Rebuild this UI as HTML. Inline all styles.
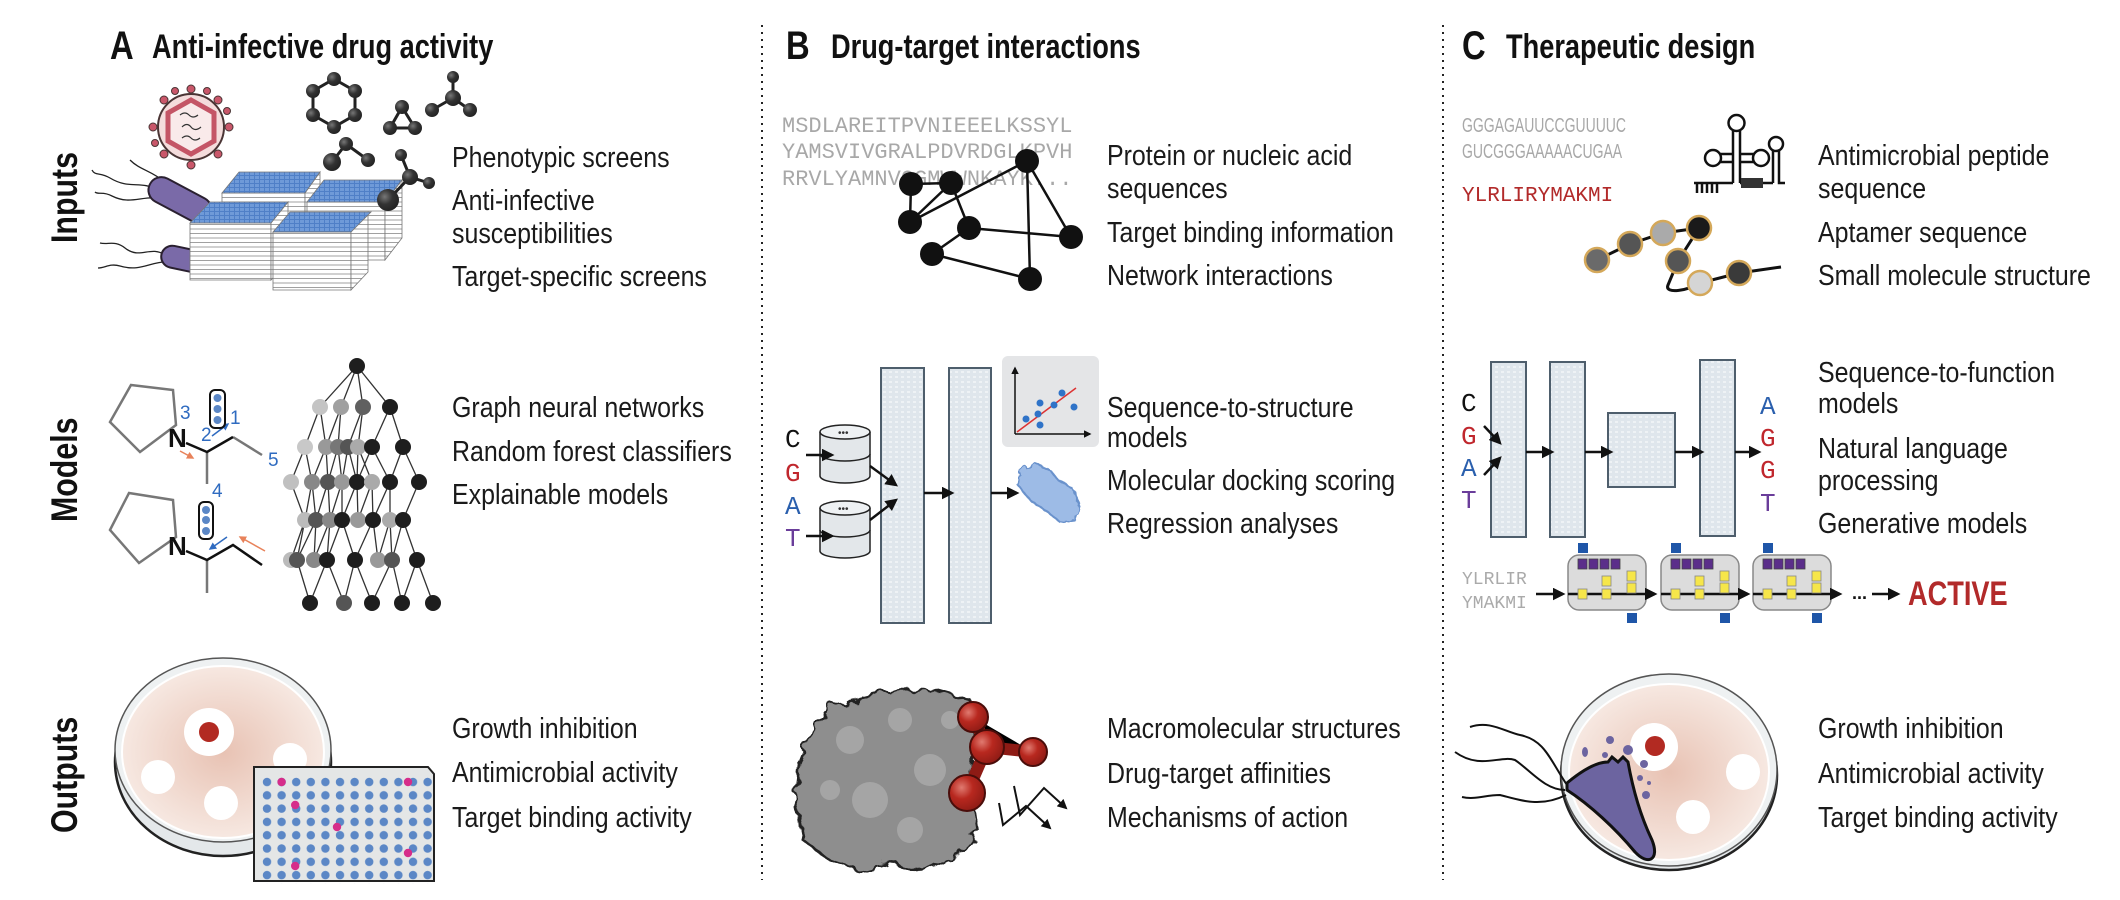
<!DOCTYPE html>
<html><head><meta charset="utf-8">
<style>
html,body{margin:0;padding:0;background:#fff;}
svg{display:block;}
.t{font-family:"Liberation Sans",sans-serif;font-size:29px;fill:#1a1a1a;}
.h{font-family:"Liberation Sans",sans-serif;font-size:34px;font-weight:bold;fill:#111;}
.L{font-family:"Liberation Sans",sans-serif;font-size:40px;font-weight:bold;fill:#111;}
.row{font-family:"Liberation Sans",sans-serif;font-size:37px;font-weight:bold;fill:#111;}
.m{font-family:"Liberation Mono",monospace;}
</style></head>
<body>
<svg width="2120" height="900" viewBox="0 0 2120 900" xmlns="http://www.w3.org/2000/svg">
<defs>
  <pattern id="grid" width="5" height="4" patternUnits="userSpaceOnUse">
    <rect width="5" height="4" fill="#4f7fc7"/><rect x="0" y="0" width="4" height="3" fill="#6f9ad8"/>
  </pattern>
  <pattern id="hl" width="6" height="4.5" patternUnits="userSpaceOnUse">
    <rect width="6" height="4.5" fill="#fff"/><line x1="0" y1="4" x2="6" y2="4" stroke="#888" stroke-width="0.8"/>
  </pattern>
  <pattern id="wells" x="262" y="777" width="14.6" height="13.3" patternUnits="userSpaceOnUse">
    <circle cx="5" cy="5" r="4.2" fill="#5b87c6"/>
  </pattern>
  <pattern id="bin" width="6" height="5" patternUnits="userSpaceOnUse">
    <rect width="6" height="5" fill="#dfe6ec"/><rect x="1" y="1" width="3" height="2" fill="#eef2f5"/>
  </pattern>
  <radialGradient id="peach" cx="0.5" cy="0.5" r="0.55">
    <stop offset="0" stop-color="#e8c2b3"/><stop offset="1" stop-color="#f8ece6"/>
  </radialGradient>
  <radialGradient id="ball" cx="0.35" cy="0.35" r="0.7">
    <stop offset="0" stop-color="#777"/><stop offset="0.5" stop-color="#333"/><stop offset="1" stop-color="#222"/>
  </radialGradient>
  <radialGradient id="rball" cx="0.35" cy="0.35" r="0.7">
    <stop offset="0" stop-color="#e07a70"/><stop offset="0.45" stop-color="#b8281f"/><stop offset="1" stop-color="#8e1b15"/>
  </radialGradient>
  <filter id="bumpy" x="-10%" y="-10%" width="120%" height="120%">
    <feTurbulence type="fractalNoise" baseFrequency="0.08" numOctaves="2" seed="3"/>
    <feDisplacementMap in="SourceGraphic" scale="12"/>
  </filter>
  <filter id="bumpy2" x="-10%" y="-10%" width="120%" height="120%">
    <feTurbulence type="fractalNoise" baseFrequency="0.15" numOctaves="2" seed="5"/>
    <feDisplacementMap in="SourceGraphic" scale="8"/>
  </filter>
  <marker id="ar" viewBox="0 0 10 10" refX="8" refY="5" markerWidth="5" markerHeight="5" orient="auto">
    <path d="M0,0 L10,5 L0,10 z" fill="#111"/>
  </marker>
  <marker id="aro" viewBox="0 0 10 10" refX="8" refY="5" markerWidth="5" markerHeight="5" orient="auto">
    <path d="M0,0 L10,5 L0,10 z" fill="#e8825a"/>
  </marker>
  <marker id="arb" viewBox="0 0 10 10" refX="8" refY="5" markerWidth="5" markerHeight="5" orient="auto">
    <path d="M0,0 L10,5 L0,10 z" fill="#2f6bc0"/>
  </marker>
</defs>

<line x1="762" y1="25" x2="762" y2="880" stroke="#222" stroke-width="2" stroke-dasharray="2,5"/>
<line x1="1443" y1="25" x2="1443" y2="880" stroke="#222" stroke-width="2" stroke-dasharray="2,5"/>

<text class="row" transform="translate(77,243) rotate(-90) scale(.82,1)">Inputs</text>
<text class="row" transform="translate(77,522) rotate(-90) scale(.82,1)">Models</text>
<text class="row" transform="translate(77,833) rotate(-90) scale(.82,1)">Outputs</text>

<text class="L" transform="translate(110,59) scale(.82,1)">A</text>
<text class="h" transform="translate(152,58) scale(.8,1)">Anti-infective drug activity</text>
<text class="L" transform="translate(786,59) scale(.82,1)">B</text>
<text class="h" transform="translate(831,58) scale(.8,1)">Drug-target interactions</text>
<text class="L" transform="translate(1462,59) scale(.82,1)">C</text>
<text class="h" transform="translate(1506,58) scale(.8,1)">Therapeutic design</text>

<g class="t">
<text transform="translate(452,167) scale(.86,1)">Phenotypic screens</text>
<text transform="translate(452,210) scale(.86,1)">Anti-infective</text>
<text transform="translate(452,243) scale(.86,1)">susceptibilities</text>
<text transform="translate(452,286) scale(.86,1)">Target-specific screens</text>
<text transform="translate(452,417) scale(.86,1)">Graph neural networks</text>
<text transform="translate(452,461) scale(.86,1)">Random forest classifiers</text>
<text transform="translate(452,504) scale(.86,1)">Explainable models</text>
<text transform="translate(452,738) scale(.86,1)">Growth inhibition</text>
<text transform="translate(452,782) scale(.86,1)">Antimicrobial activity</text>
<text transform="translate(452,827) scale(.86,1)">Target binding activity</text>
</g>
<g class="t">
<text transform="translate(1107,165) scale(.86,1)">Protein or nucleic acid</text>
<text transform="translate(1107,198) scale(.86,1)">sequences</text>
<text transform="translate(1107,242) scale(.86,1)">Target binding information</text>
<text transform="translate(1107,285) scale(.86,1)">Network interactions</text>
<text transform="translate(1107,417) scale(.86,1)">Sequence-to-structure</text>
<text transform="translate(1107,447) scale(.86,1)">models</text>
<text transform="translate(1107,490) scale(.86,1)">Molecular docking scoring</text>
<text transform="translate(1107,533) scale(.86,1)">Regression analyses</text>
<text transform="translate(1107,738) scale(.86,1)">Macromolecular structures</text>
<text transform="translate(1107,783) scale(.86,1)">Drug-target affinities</text>
<text transform="translate(1107,827) scale(.86,1)">Mechanisms of action</text>
</g>
<g class="t">
<text transform="translate(1818,165) scale(.86,1)">Antimicrobial peptide</text>
<text transform="translate(1818,198) scale(.86,1)">sequence</text>
<text transform="translate(1818,242) scale(.86,1)">Aptamer sequence</text>
<text transform="translate(1818,285) scale(.86,1)">Small molecule structure</text>
<text transform="translate(1818,382) scale(.86,1)">Sequence-to-function</text>
<text transform="translate(1818,413) scale(.86,1)">models</text>
<text transform="translate(1818,458) scale(.86,1)">Natural language</text>
<text transform="translate(1818,490) scale(.86,1)">processing</text>
<text transform="translate(1818,533) scale(.86,1)">Generative models</text>
<text transform="translate(1818,738) scale(.86,1)">Growth inhibition</text>
<text transform="translate(1818,783) scale(.86,1)">Antimicrobial activity</text>
<text transform="translate(1818,827) scale(.86,1)">Target binding activity</text>
</g>

<!-- A inputs -->
<g stroke="#4a3535">
  <g fill="#c9576a" stroke-width="1">
    <circle cx="191" cy="89" r="4"/><circle cx="191" cy="165" r="4"/><circle cx="153" cy="127" r="4"/><circle cx="229" cy="127" r="4"/>
    <circle cx="164" cy="100" r="4"/><circle cx="218" cy="100" r="4"/><circle cx="164" cy="154" r="4"/><circle cx="218" cy="154" r="4"/>
    <circle cx="175" cy="91" r="3.5"/><circle cx="207" cy="91" r="3.5"/><circle cx="155" cy="143" r="3.5"/><circle cx="227" cy="111" r="3.5"/>
  </g>
  <circle cx="191" cy="127" r="33" fill="#f4dcdc" stroke-width="2"/>
  <polygon points="191,100 214,113 214,141 191,154 168,141 168,113" fill="#f9eaea" stroke="#c45566" stroke-width="5"/>
  <path d="M180,115 q5,-4 9,0 t9,0 M182,127 q5,-5 9,0 t10,0 M182,138 q5,-4 9,0 t9,0" fill="none" stroke="#333" stroke-width="1.2"/>
</g>
<g fill="none" stroke="#222" stroke-width="1.3">
  <path d="M158,190 C140,180 130,190 110,178 C100,172 95,176 92,170"/>
  <path d="M160,198 C140,196 130,205 112,196 C103,191 98,195 95,192"/>
  <path d="M165,182 C150,170 140,170 130,160"/>
  <path d="M165,255 C150,245 140,260 125,248 C115,240 108,245 100,243"/>
  <path d="M165,262 C150,262 140,272 120,266 C110,263 105,268 98,268"/>
</g>
<g transform="translate(180,200) rotate(28)"><rect x="-34" y="-13" width="68" height="26" rx="13" fill="#7a6aa8" stroke="#2a2030" stroke-width="2"/></g>
<g transform="translate(183,259) rotate(12)"><rect x="-22" y="-11" width="44" height="22" rx="11" fill="#7a6aa8" stroke="#2a2030" stroke-width="2"/></g>
<g stroke="#777" stroke-width="0.8">
  <polygon points="222,193 305,193 305,240 222,240" fill="url(#hl)"/>
  <polygon points="305,193 320,172 320,220 305,240" fill="url(#hl)"/>
  <polygon points="222,193 239,172 320,172 305,193" fill="url(#grid)"/>
  <polygon points="307,202 385,202 385,260 307,260" fill="url(#hl)"/>
  <polygon points="385,202 402,180 402,238 385,260" fill="url(#hl)"/>
  <polygon points="307,202 324,180 402,180 385,202" fill="url(#grid)"/>
  <polygon points="190,223 271,223 271,280 190,280" fill="url(#hl)"/>
  <polygon points="271,223 288,202 288,262 271,280" fill="url(#hl)"/>
  <polygon points="190,223 210,202 288,202 271,223" fill="url(#grid)"/>
  <polygon points="273,232 351,232 351,290 273,290" fill="url(#hl)"/>
  <polygon points="351,232 368,212 368,272 351,290" fill="url(#hl)"/>
  <polygon points="273,232 290,212 371,212 351,232" fill="url(#grid)"/>
</g>
<g stroke="#222" stroke-width="3" fill="none">
  <polygon points="334,79 355,91 355,115 334,127 313,115 313,91"/>
  <polygon points="402,107 390,128 415,128"/>
  <path d="M453,98 L453,77 M453,98 L432,110 M453,98 L470,110"/>
  <path d="M346,144 L332,162 M346,144 L368,160"/>
  <path d="M401,155 L410,177 L429,183 M410,177 L388,200"/>
</g>
<g fill="url(#ball)">
  <circle cx="334" cy="79" r="7"/><circle cx="355" cy="91" r="7"/><circle cx="355" cy="115" r="7"/><circle cx="334" cy="127" r="7"/><circle cx="313" cy="115" r="7"/><circle cx="313" cy="91" r="7"/>
  <circle cx="402" cy="107" r="7"/><circle cx="390" cy="128" r="7"/><circle cx="415" cy="128" r="7"/>
  <circle cx="453" cy="77" r="6"/><circle cx="453" cy="98" r="8"/><circle cx="432" cy="110" r="7"/><circle cx="470" cy="110" r="7"/>
  <circle cx="346" cy="144" r="7"/><circle cx="332" cy="162" r="9"/><circle cx="368" cy="160" r="7"/>
  <circle cx="401" cy="155" r="6"/><circle cx="410" cy="177" r="8"/><circle cx="429" cy="183" r="6"/><circle cx="388" cy="200" r="11"/>
</g>

<!-- A models -->
<g fill="none" stroke="#777" stroke-width="2.5">
  <polygon points="131,385 173,390 176,425 140,452 110,422"/>
  <polygon points="129,493 173,500 176,537 139,563 110,530"/>
  <path d="M207,452 L207,484"/>
  <path d="M207,560 L207,593"/>
  <path d="M233,437 L262,455"/>
</g>
<g fill="none" stroke="#111" stroke-width="2.5">
  <path d="M186,443 L207,452 L233,437"/>
  <path d="M186,551 L207,560 L233,545 L262,565"/>
</g>
<text x="168" y="447" font-family="Liberation Sans" font-weight="bold" font-size="26" fill="#111">N</text>
<text x="168" y="555" font-family="Liberation Sans" font-weight="bold" font-size="26" fill="#111">N</text>
<g font-family="Liberation Sans" font-size="19" fill="#2f6bc0">
  <text x="180" y="419">3</text><text x="201" y="441">2</text><text x="230" y="424">1</text><text x="268" y="466">5</text><text x="212" y="497">4</text>
</g>
<line x1="212" y1="436" x2="228" y2="424" stroke="#2f6bc0" stroke-width="1.5" marker-end="url(#arb)"/>
<line x1="180" y1="451" x2="193" y2="458" stroke="#e8825a" stroke-width="1.5" marker-end="url(#aro)"/>
<line x1="227" y1="537" x2="210" y2="549" stroke="#2f6bc0" stroke-width="1.5" marker-end="url(#arb)"/>
<line x1="265" y1="551" x2="240" y2="537" stroke="#e8825a" stroke-width="1.5" marker-end="url(#aro)"/>
<rect x="210" y="390" width="15" height="38" rx="5" fill="#fff" stroke="#111" stroke-width="2"/>
<circle cx="217.5" cy="398" r="4" fill="#5b87c6"/><circle cx="217.5" cy="409" r="4" fill="#5b87c6"/><circle cx="217.5" cy="420" r="4" fill="#5b87c6"/>
<rect x="199" y="502" width="14" height="37" rx="5" fill="#fff" stroke="#111" stroke-width="2"/>
<circle cx="206" cy="510" r="4" fill="#5b87c6"/><circle cx="206" cy="520" r="4" fill="#5b87c6"/><circle cx="206" cy="531" r="4" fill="#5b87c6"/>

<g stroke="#333" stroke-width="1.3" fill="none">
<path d="M357,366 L320,407 M357,366 L341,407 M357,366 L363,407 M357,366 L390,407
M320,407 L305,447 M320,407 L326,447 M341,407 L326,447 M341,407 L338,447 M363,407 L348,447 M363,407 L358,447 M390,407 L372,447 M390,407 L403,447
M305,447 L291,482 M305,447 L312,482 M326,447 L312,482 M326,447 L328,482 M338,447 L328,482 M338,447 L342,482 M348,447 L342,482 M348,447 L357,482 M358,447 L357,482 M358,447 L372,482 M372,447 L357,482 M372,447 L390,482 M403,447 L390,482 M403,447 L419,482
M291,482 L305,520 M312,482 L305,520 M312,482 L316,520 M328,482 L316,520 M328,482 L330,520 M342,482 L330,520 M342,482 L342,520 M357,482 L342,520 M357,482 L358,520 M372,482 L358,520 M372,482 L373,520 M390,482 L373,520 M390,482 L390,520 M419,482 L403,520
M305,520 L291,560 M305,520 L297,560 M316,520 L297,560 M316,520 L314,560 M330,520 L314,560 M330,520 L327,560 M342,520 L327,560 M342,520 L355,560 M373,520 L355,560 M373,520 L378,560 M390,520 L378,560 M390,520 L392,560 M403,520 L392,560 M403,520 L417,560
M297,560 L310,603 M327,560 L310,603 M327,560 L344,603 M355,560 L344,603 M355,560 L372,603 M392,560 L372,603 M392,560 L402,603 M417,560 L402,603 M417,560 L433,603"/>
</g>
<g>
<circle cx="357" cy="366" r="8" fill="#1e1e1e"/>
<circle cx="320" cy="407" r="8" fill="#c4c4c4"/><circle cx="341" cy="407" r="8" fill="#a0a0a0"/><circle cx="363" cy="407" r="8" fill="#606060"/><circle cx="390" cy="407" r="8" fill="#1e1e1e"/>
<circle cx="305" cy="447" r="8" fill="#c8c8c8"/><circle cx="326" cy="447" r="8" fill="#999"/><circle cx="338" cy="447" r="8" fill="#777"/><circle cx="348" cy="447" r="8" fill="#555"/><circle cx="358" cy="447" r="8" fill="#aaa"/><circle cx="372" cy="447" r="8" fill="#1e1e1e"/><circle cx="403" cy="447" r="8" fill="#1e1e1e"/>
<circle cx="291" cy="482" r="8" fill="#c0c0c0"/><circle cx="312" cy="482" r="8" fill="#888"/><circle cx="328" cy="482" r="8" fill="#555"/><circle cx="342" cy="482" r="8" fill="#999"/><circle cx="357" cy="482" r="8" fill="#1e1e1e"/><circle cx="372" cy="482" r="8" fill="#aaa"/><circle cx="390" cy="482" r="8" fill="#1e1e1e"/><circle cx="419" cy="482" r="8" fill="#1e1e1e"/>
<circle cx="305" cy="520" r="8" fill="#bbb"/><circle cx="316" cy="520" r="8" fill="#555"/><circle cx="330" cy="520" r="8" fill="#888"/><circle cx="342" cy="520" r="8" fill="#1e1e1e"/><circle cx="358" cy="520" r="8" fill="#999"/><circle cx="373" cy="520" r="8" fill="#1e1e1e"/><circle cx="390" cy="520" r="8" fill="#aaa"/><circle cx="403" cy="520" r="8" fill="#1e1e1e"/>
<circle cx="291" cy="560" r="8" fill="#bbb"/><circle cx="297" cy="560" r="8" fill="#555"/><circle cx="314" cy="560" r="8" fill="#888"/><circle cx="327" cy="560" r="8" fill="#1e1e1e"/><circle cx="355" cy="560" r="8" fill="#1e1e1e"/><circle cx="378" cy="560" r="8" fill="#999"/><circle cx="392" cy="560" r="8" fill="#555"/><circle cx="417" cy="560" r="8" fill="#1e1e1e"/>
<circle cx="310" cy="603" r="8" fill="#1e1e1e"/><circle cx="344" cy="603" r="8" fill="#555"/><circle cx="372" cy="603" r="8" fill="#1e1e1e"/><circle cx="402" cy="603" r="8" fill="#1e1e1e"/><circle cx="433" cy="603" r="8" fill="#1e1e1e"/>
</g>

<!-- A outputs -->
<ellipse cx="223" cy="762" rx="108" ry="94" fill="#e4e8ea" stroke="#222" stroke-width="2.5"/>
<ellipse cx="223" cy="750" rx="108" ry="92" fill="#eef1f2" stroke="#555" stroke-width="1.5"/>
<ellipse cx="223" cy="752" rx="101" ry="86" fill="url(#peach)" stroke="#fff" stroke-width="2"/>
<ellipse cx="209" cy="732" rx="25" ry="24" fill="#fff"/><circle cx="209" cy="732" r="10" fill="#b22a22"/>
<ellipse cx="290" cy="759" rx="17" ry="16" fill="#fff"/>
<ellipse cx="158" cy="777" rx="17" ry="17" fill="#fff"/>
<ellipse cx="221" cy="803" rx="17" ry="17" fill="#fff"/>
<path d="M254,767 L428,767 L434,774 L434,881 L254,881 Z" fill="#e4e6e6" stroke="#222" stroke-width="2"/>
<rect x="262" y="777" width="175" height="107" fill="url(#wells)"/>
<g fill="#d62d8a">
  <circle cx="281.6" cy="782" r="4.2"/><circle cx="408" cy="782" r="4.2"/><circle cx="295.2" cy="805" r="4.2"/><circle cx="337" cy="827" r="4.2"/><circle cx="408" cy="853" r="4.2"/><circle cx="295.2" cy="866" r="4.2"/>
</g>

<!-- B inputs -->
<g class="m" font-size="22" fill="#a8a8a8">
  <text x="782" y="132">MSDLAREITPVNIEEELKSSYL</text>
  <text x="782" y="158">YAMSVIVGRALPDVRDGLKPVH</text>
  <text x="782" y="185">RRVLYAMNVGGMWWNKAYK...</text>
</g>
<g stroke="#111" stroke-width="2.5">
  <path d="M911,184 L951,183 M911,184 L910,222 M951,183 L910,222 M910,222 L1027,161 M951,183 L969,228 M969,228 L1071,237 M1027,161 L1071,237 M1027,161 L1030,279 M969,228 L932,254 M932,254 L1030,279"/>
</g>
<g fill="#111">
  <circle cx="1027" cy="161" r="12"/><circle cx="911" cy="184" r="12"/><circle cx="951" cy="183" r="12"/><circle cx="910" cy="222" r="12"/><circle cx="969" cy="228" r="12"/><circle cx="1071" cy="237" r="12"/><circle cx="932" cy="254" r="12"/><circle cx="1030" cy="279" r="12"/>
</g>

<!-- B models -->
<rect x="881" y="368" width="43" height="255" fill="url(#bin)" stroke="#4e5e6c" stroke-width="2"/>
<rect x="949" y="368" width="42" height="255" fill="url(#bin)" stroke="#4e5e6c" stroke-width="2"/>
<rect x="1002" y="356" width="97" height="91" rx="6" fill="#e4e5e7"/>
<line x1="1015" y1="434" x2="1015" y2="368" stroke="#111" stroke-width="1.5" marker-end="url(#ar)"/>
<line x1="1015" y1="434" x2="1090" y2="434" stroke="#111" stroke-width="1.5" marker-end="url(#ar)"/>
<line x1="1017" y1="432" x2="1076" y2="388" stroke="#d33" stroke-width="1.5"/>
<g fill="#2f73c8"><circle cx="1026" cy="419" r="3.5"/><circle cx="1038" cy="414" r="3.5"/><circle cx="1040" cy="425" r="3.5"/><circle cx="1040" cy="403" r="3.5"/><circle cx="1054" cy="405" r="3.5"/><circle cx="1062" cy="393" r="3.5"/><circle cx="1074" cy="407" r="3.5"/></g>
<g class="m" font-size="26">
  <text x="785" y="447" fill="#111">C</text>
  <text x="785" y="481" fill="#c0272d">G</text>
  <text x="785" y="514" fill="#2a5fad">A</text>
  <text x="785" y="546" fill="#6a3d9a">T</text>
</g>
<g stroke="#222" stroke-width="1.5">
  <path d="M820,432 L820,476 A25,7 0 0 0 870,476 L870,432" fill="#e3e7ea"/>
  <ellipse cx="845" cy="432" rx="25" ry="7" fill="#eef1f3"/>
  <path d="M820,454 A25,7 0 0 0 870,454" fill="none"/>
  <path d="M820,508 L820,551 A25,7 0 0 0 870,551 L870,508" fill="#e3e7ea"/>
  <ellipse cx="845" cy="508" rx="25" ry="7" fill="#eef1f3"/>
  <path d="M820,530 A25,7 0 0 0 870,530" fill="none"/>
</g>
<text x="838" y="436" font-size="10" font-family="Liberation Sans" fill="#333">•••</text>
<text x="838" y="512" font-size="10" font-family="Liberation Sans" fill="#333">•••</text>
<g stroke="#111" stroke-width="2.5" marker-end="url(#ar)">
  <line x1="806" y1="455" x2="832" y2="455"/>
  <line x1="806" y1="536" x2="832" y2="536"/>
  <line x1="870" y1="466" x2="896" y2="485"/>
  <line x1="870" y1="520" x2="896" y2="500"/>
  <line x1="924" y1="493" x2="952" y2="493"/>
  <line x1="991" y1="493" x2="1017" y2="493"/>
</g>
<path d="M1020,470 L1035,463 L1050,470 L1058,480 L1072,488 L1080,505 L1075,520 L1060,522 L1045,510 L1030,500 L1018,485 Z" fill="#9dbbe6" stroke="#6a92cc" stroke-width="2" filter="url(#bumpy2)"/>

<!-- B outputs -->
<path d="M830,706 L870,696 L900,690 L935,690 L970,700 L975,740 L972,790 L978,830 L960,855 L925,872 L890,862 L860,870 L830,860 L803,840 L795,800 L800,760 L812,730 Z" fill="#8e8e8e" stroke="#222" stroke-width="2.5" filter="url(#bumpy)"/>
<g fill="#b5b5b5" opacity="0.6">
  <circle cx="850" cy="740" r="14"/><circle cx="900" cy="720" r="12"/><circle cx="930" cy="770" r="16"/><circle cx="870" cy="800" r="18"/><circle cx="830" cy="790" r="10"/><circle cx="910" cy="830" r="13"/><circle cx="950" cy="720" r="9"/>
</g>
<g stroke="#8e1b15" stroke-width="12" stroke-linecap="round">
  <path d="M973,717 L987,747 L1033,752 M987,747 L967,793"/>
</g>
<g stroke="#4a0d0a" stroke-width="2">
  <circle cx="973" cy="717" r="15" fill="url(#rball)"/><circle cx="987" cy="747" r="17" fill="url(#rball)"/><circle cx="1033" cy="752" r="14" fill="url(#rball)"/><circle cx="967" cy="793" r="18" fill="url(#rball)"/>
</g>
<g fill="none" stroke="#111" stroke-width="2">
  <path d="M1014,786 L1020,815 L1044,788 L1066,808" marker-end="url(#ar)"/>
  <path d="M999,803 L1003,825 L1026,806 L1050,828" marker-end="url(#ar)"/>
</g>

<!-- C inputs -->
<g font-family="Liberation Sans" font-size="20" fill="#a8a8a8">
  <text transform="translate(1462,132) scale(.7,1)">GGGAGAUUCCGUUUUC</text>
  <text transform="translate(1462,158) scale(.7,1)">GUCGGGAAAAACUGAA</text>
</g>
<text class="m" x="1462" y="201" font-size="21" fill="#b22a2a">YLRLIRYMAKMI</text>
<g fill="none" stroke="#111" stroke-width="2.5">
  <path d="M1733,183 L1733,131 M1740,183 L1740,131"/>
  <circle cx="1736.5" cy="123" r="8"/>
  <circle cx="1713" cy="158" r="8"/><path d="M1720,154 L1733,154 M1720,162 L1733,162"/>
  <circle cx="1761" cy="158" r="8"/><path d="M1740,154 L1754,154 M1740,162 L1754,162"/>
  <circle cx="1776" cy="144" r="7"/><path d="M1773,151 L1773,183 M1779,151 L1779,183 L1785,183"/>
  <path d="M1694,183 L1733,183 M1740,183 L1773,183"/>
  <path d="M1697,183 v10 M1702,183 v10 M1707,183 v10 M1712,183 v10 M1717,183 v10"/>
</g>
<rect x="1741" y="178" width="22" height="10" fill="#333"/>
<path d="M1597,260 L1630,244 L1663,233 L1699,228 L1678,261 M1678,261 L1668,285 C1664,295 1690,290 1700,283 L1739,273 L1781,267" fill="none" stroke="#111" stroke-width="3"/>
<g stroke="#d4a85a" stroke-width="2.5">
  <circle cx="1597" cy="260" r="12" fill="#6a6a6a"/>
  <circle cx="1630" cy="244" r="12" fill="#555"/>
  <circle cx="1663" cy="233" r="12" fill="#aaa"/>
  <circle cx="1699" cy="228" r="12" fill="#1a1a1a"/>
  <circle cx="1678" cy="261" r="12" fill="#555"/>
  <circle cx="1700" cy="283" r="12" fill="#d5d5d5"/>
  <circle cx="1739" cy="273" r="12" fill="#3a3a3a"/>
</g>

<!-- C models -->
<rect x="1491" y="362" width="35" height="175" fill="url(#bin)" stroke="#4e5e6c" stroke-width="2"/>
<rect x="1550" y="362" width="35" height="175" fill="url(#bin)" stroke="#4e5e6c" stroke-width="2"/>
<rect x="1608" y="413" width="67" height="74" fill="url(#bin)" stroke="#4e5e6c" stroke-width="2"/>
<rect x="1700" y="360" width="35" height="176" fill="url(#bin)" stroke="#4e5e6c" stroke-width="2"/>
<g class="m" font-size="26">
  <text x="1461" y="411" fill="#111">C</text>
  <text x="1461" y="444" fill="#c0272d">G</text>
  <text x="1461" y="476" fill="#2a5fad">A</text>
  <text x="1461" y="508" fill="#6a3d9a">T</text>
  <text x="1760" y="414" fill="#2a5fad">A</text>
  <text x="1760" y="446" fill="#c0272d">G</text>
  <text x="1760" y="478" fill="#c0272d">G</text>
  <text x="1760" y="511" fill="#6a3d9a">T</text>
</g>
<g stroke="#111" stroke-width="2.5" marker-end="url(#ar)">
  <line x1="1484" y1="426" x2="1500" y2="443"/>
  <line x1="1484" y1="475" x2="1500" y2="458"/>
  <line x1="1526" y1="452" x2="1552" y2="452"/>
  <line x1="1585" y1="452" x2="1611" y2="452"/>
  <line x1="1675" y1="452" x2="1702" y2="452"/>
  <line x1="1735" y1="452" x2="1759" y2="452"/>
</g>
<g class="m" font-size="18" fill="#aaa">
  <text x="1462" y="584">YLRLIR</text>
  <text x="1462" y="608">YMAKMI</text>
</g>
<g stroke="#888" stroke-width="1.5" fill="#dcdcdc">
  <rect x="1568" y="555" width="78" height="55" rx="11"/>
  <rect x="1661" y="555" width="78" height="55" rx="11"/>
  <rect x="1753" y="555" width="78" height="55" rx="11"/>
</g>
<g stroke="#111" stroke-width="2.5" marker-end="url(#ar)">
  <line x1="1536" y1="594" x2="1563" y2="594"/>
  <line x1="1568" y1="594" x2="1655" y2="594"/>
  <line x1="1661" y1="594" x2="1748" y2="594"/>
  <line x1="1753" y1="594" x2="1840" y2="594"/>
  <line x1="1872" y1="594" x2="1898" y2="594"/>
</g>
<text x="1852" y="599" font-family="Liberation Sans" font-weight="bold" font-size="18" fill="#111">...</text>
<g id="blk">
  <g fill="#5b2e8a" stroke="#444" stroke-width="0.8">
    <rect x="1578" y="559" width="9" height="10"/><rect x="1589" y="559" width="9" height="10"/><rect x="1600" y="559" width="9" height="10"/><rect x="1611" y="559" width="9" height="10"/>
  </g>
  <g fill="#f6e64a" stroke="#888" stroke-width="0.8">
    <rect x="1602" y="576" width="9" height="10"/><rect x="1627" y="571" width="9" height="10"/><rect x="1627" y="583" width="9" height="10"/><rect x="1578" y="589" width="9" height="10"/><rect x="1602" y="589" width="9" height="10"/>
  </g>
  <rect x="1578" y="543" width="10" height="10" fill="#1f56a8"/>
  <rect x="1627" y="613" width="10" height="10" fill="#1f56a8"/>
</g>
<use href="#blk" x="93"/>
<use href="#blk" x="185"/>
<text transform="translate(1908,605) scale(.8,1)" font-family="Liberation Sans" font-weight="bold" font-size="34" fill="#b22a2a">ACTIVE</text>

<!-- C outputs -->
<ellipse cx="1669" cy="775" rx="108" ry="95" fill="#e4e8ea" stroke="#222" stroke-width="2.5"/>
<ellipse cx="1669" cy="770" rx="108" ry="96" fill="#eef1f2" stroke="#555" stroke-width="1.5"/>
<ellipse cx="1669" cy="772" rx="100" ry="88" fill="url(#peach)" stroke="#fff" stroke-width="2"/>
<circle cx="1654" cy="747" r="24" fill="#fff"/><circle cx="1655" cy="746" r="10" fill="#b22a22"/>
<ellipse cx="1743" cy="772" rx="17" ry="18" fill="#fff"/>
<ellipse cx="1693" cy="817" rx="17" ry="17" fill="#fff"/>
<g fill="none" stroke="#111" stroke-width="2">
  <path d="M1567,785 C1550,760 1545,740 1520,735 C1505,732 1490,720 1470,727"/>
  <path d="M1565,790 C1545,790 1530,770 1515,760 C1500,755 1480,770 1455,752"/>
  <path d="M1566,795 C1540,808 1520,800 1500,795 C1485,795 1475,800 1462,797"/>
</g>
<path d="M1567,783 C1585,768 1598,762 1608,762 L1612,757 L1618,762 L1623,757 L1628,762 C1633,790 1640,815 1652,840 C1660,860 1648,866 1635,852 C1615,828 1590,805 1567,790 Z" fill="#6c64a0" stroke="#111" stroke-width="3"/>
<g fill="#6c64a0">
  <circle cx="1610" cy="740" r="4"/><circle cx="1628" cy="750" r="5"/><circle cx="1605" cy="755" r="3"/><circle cx="1644" cy="764" r="4"/><circle cx="1640" cy="778" r="3"/><circle cx="1646" cy="795" r="4"/><ellipse cx="1585" cy="752" rx="3" ry="5"/><circle cx="1649" cy="783" r="2"/>
</g>
</svg>
</body></html>
